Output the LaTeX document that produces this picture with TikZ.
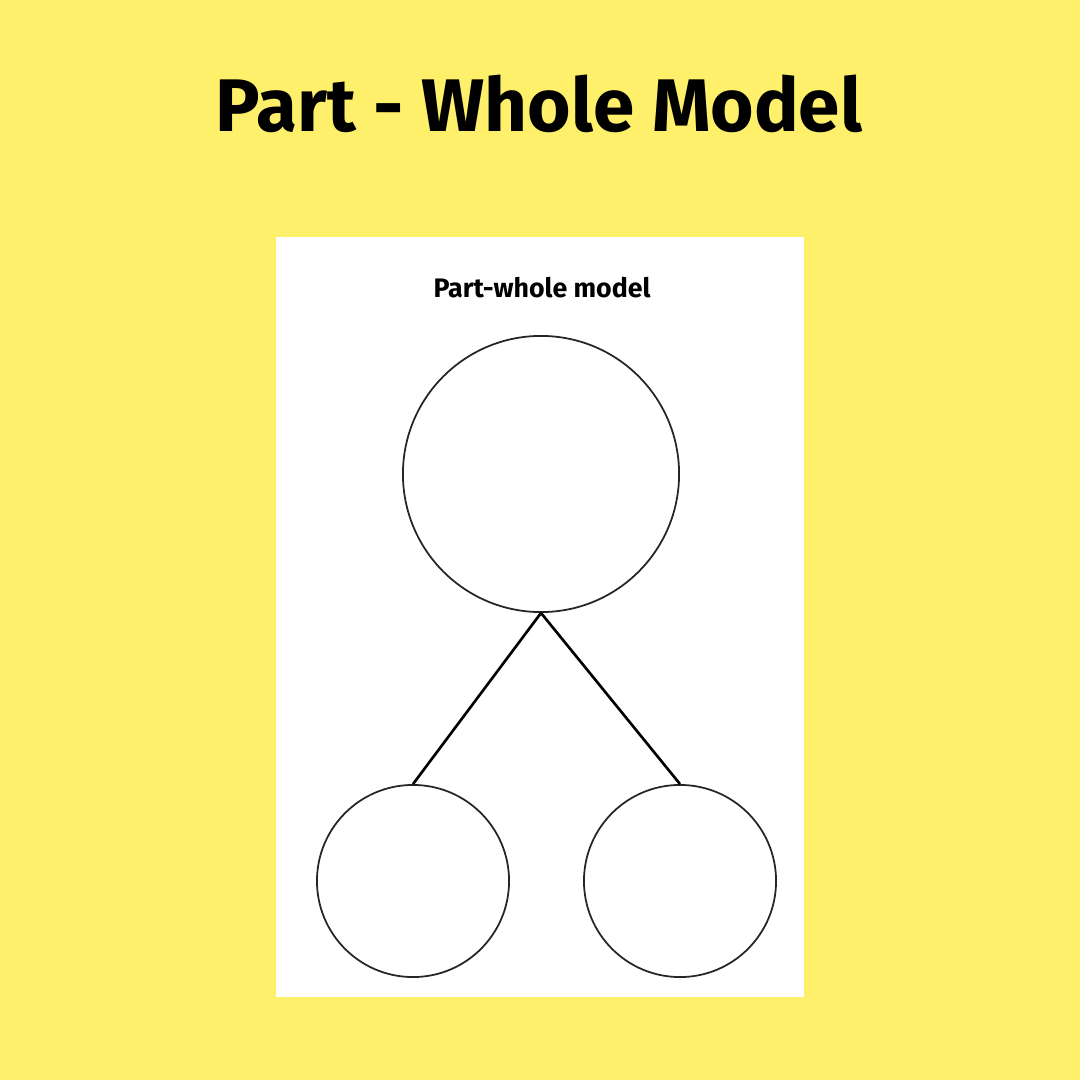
\documentclass[tikz,border=0pt]{standalone}
\usepackage{fontspec}
\setmainfont{Fira Sans}
\definecolor{bgyellow}{HTML}{FEF06B}

\begin{document}
\begin{tikzpicture}[%
    x=0.01cm,
    y=-0.01cm,
    whole/.style={%
        circle,
        draw=black!85,
        line width=0.5pt,
        minimum size=2.76cm,
        inner sep=0pt,
    },
    part/.style={%
        whole,
        minimum size=1.92cm,
    },
    link/.style={%
        draw=black,
        line width=0.75pt,
    }
]
% 背景
\fill[bgyellow] (0,0) rectangle (1080,1080);
\node[fill=white,minimum width=5.28cm,minimum height=7.6cm,inner sep=0pt] (sheet) at (540,617) {};

% 标题
\node[anchor=base,font=\fontsize{21.2}{26}\bfseries] (title) at (539,132) {Part - Whole Model};
\node[anchor=base,font=\fontsize{7.6}{9}\selectfont\bfseries] (subtitle) at (542,298) {Part-whole model};

% 圆
\node[whole] (total) at (541,474) {};
\node[part] (partA) at (413,881) {};
\node[part] (partB) at (680,881) {};

% 连线
\draw[link] (total.south) -- (partA.north);
\draw[link] (total.south) -- (partB.north);

\end{tikzpicture}
\end{document}
